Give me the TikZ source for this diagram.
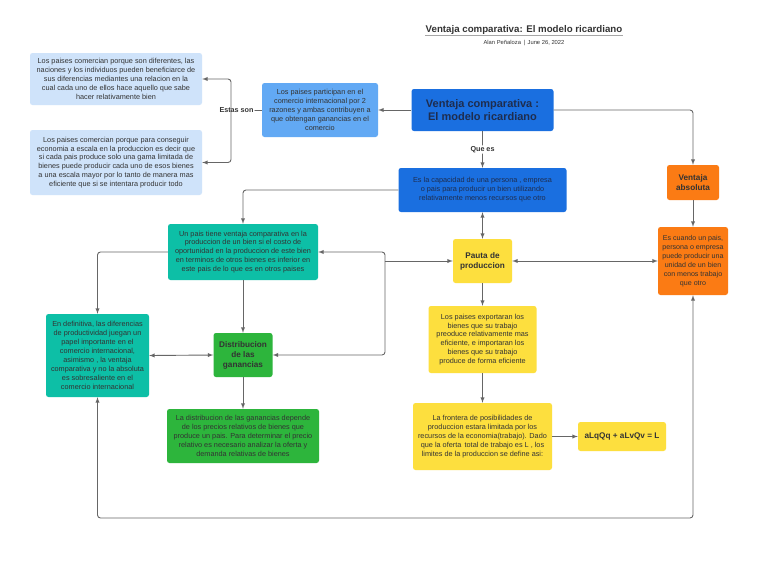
\documentclass[tikz,border=0pt]{standalone}
\usepackage{fontspec}
\setmainfont{Liberation Sans}
\usetikzlibrary{arrows,positioning,calc}

\definecolor{lblue}{HTML}{CFE3FA}
\definecolor{mblue}{HTML}{62A9F4}
\definecolor{dblue}{HTML}{1A6FE0}
\definecolor{tealbox}{HTML}{0DBFA6}
\definecolor{greenbox}{HTML}{2DB53C}
\definecolor{yellowbox}{HTML}{FDDF3E}
\definecolor{orangebox}{HTML}{FB7B14}
\definecolor{ink}{HTML}{333333}
\definecolor{navy}{HTML}{1E2D4F}
\definecolor{wire}{HTML}{666666}

\tikzset{
	box/.style 2 args={rounded corners=2.5pt, inner sep=0pt, align=center, text=ink,
		minimum width=#1, minimum height=#2, font=\fontsize{7.3}{8.9}\selectfont},
	head/.style={font=\fontsize{8.2}{10}\selectfont\bfseries},
	lbl/.style={fill=white, inner sep=1pt, text=ink, font=\fontsize{7.2}{8}\selectfont\bfseries},
	wire/.style={draw=wire, line width=0.9pt, rounded corners=3pt}
}

\begin{document}
\begin{tikzpicture}[x=1pt,y=-1pt]
		\useasboundingbox[fill=white] (0,0) rectangle (768,571);

		\node[font=\fontsize{9.7}{11}\selectfont\bfseries, text=ink, inner sep=0.5pt] (title) at (524,30)
			{Ventaja comparativa: El modelo ricardiano};
		\draw[gray!70, line width=0.6pt] (title.south west)--(title.south east);
		\node[font=\fontsize{5.8}{6}\selectfont, text=ink] (author) at (524,43.5)
			{Alan Peñaloza \,|\, June 26, 2022};

		\node[box={172pt}{52pt}, fill=lblue] (razon1) at (116,79)
			{Los paises comercian porque son diferentes, las\\ naciones y los individuos pueden beneficiarce de\\
			 sus diferencias mediantes una relacion en la\\ cual cada uno de ellos hace aquello que sabe\\
			 hacer relativamente bien};
		\node[box={172pt}{65pt}, fill=lblue] (razon2) at (116,162.5)
			{Los paises comercian porque para conseguir\\ economia a escala en la produccion es decir que\\
			 si cada pais produce solo una gama limitada de\\ bienes puede producir cada uno de esos bienes\\
			 a una escala mayor por lo tanto de manera mas\\ eficiente que si se intentara producir todo};
		\node[box={116pt}{54pt}, fill=mblue] (razones) at (320,110)
			{Los paises participan en el\\ comercio internacional por 2\\ razones y ambas contribuyen a\\
			 que obtengan ganancias en el\\ comercio};
		\node[box={142pt}{42pt}, fill=dblue, text=navy, font=\fontsize{11}{13}\selectfont\bfseries] (modelo) at (482.5,110)
			{Ventaja comparativa :\\ El modelo ricardiano};
		\node[box={168pt}{44pt}, fill=dblue, text=navy] (capacidad) at (482.5,190)
			{Es la capacidad de una persona , empresa\\ o pais para producir un bien utilizando\\
			 relativamente menos recursos que otro};
		\node[box={52pt}{35pt}, fill=orangebox, head] (absoluta) at (693,182.5)
			{Ventaja\\ absoluta};
		\node[box={70pt}{68pt}, fill=orangebox, font=\fontsize{7.1}{8.9}\selectfont] (cuando) at (693,261)
			{Es cuando un pais,\\ persona o empresa\\ puede producir una\\ unidad de un bien\\
			 con menos trabajo\\ que otro};
		\node[box={150pt}{56pt}, fill=tealbox] (costo) at (243,252)
			{Un pais tiene ventaja comparativa en la\\ produccion de un bien si el costo de\\
			 oportunidad en la produccion de este bien\\ en terminos de otros bienes es inferior en\\
			 este pais de lo que es en otros paises};
		\node[box={59pt}{44pt}, fill=yellowbox, head] (pauta) at (482.5,261)
			{Pauta de\\ produccion};
		\node[box={103pt}{83pt}, fill=tealbox] (definitiva) at (97.5,355.5)
			{En definitiva, las diferencias\\ de productividad juegan un\\ papel importante en el\\
			 comercio internacional,\\ asimismo , la ventaja\\ comparativa y no la absoluta\\
			 es sobresaliente en el\\ comercio internacional};
		\node[box={59pt}{44pt}, fill=greenbox, head] (distrib) at (243,355)
			{Distribucion\\ de las\\ ganancias};
		\node[box={152pt}{54pt}, fill=greenbox] (precios) at (243,436)
			{La distribucion de las ganancias depende\\ de los precios relativos de bienes que\\
			 produce un pais. Para determinar el precio\\ relativo es necesario analizar la oferta y\\
			 demanda relativas de bienes};
		\node[box={108pt}{67pt}, fill=yellowbox] (exportan) at (482.5,339.5)
			{Los paises exportaran los\\ bienes que su trabajo\\ preoduce relativamente mas\\
			 eficiente, e importaran los\\ bienes que su trabajo\\ produce de forma eficiente};
		\node[box={139pt}{67pt}, fill=yellowbox] (frontera) at (482.5,436.5)
			{La frontera de posibilidades de\\ produccion estara limitada por los\\
			 recursos de la economia(trabajo). Dado\\ que la oferta\, total de trabajo es L , los\\
			 limites de la produccion se define asi:};
		\node[box={88pt}{29pt}, fill=yellowbox, font=\fontsize{8.2}{9}\selectfont\bfseries] (ecuacion) at (622,436.5)
			{aLqQq + aLvQv = L};

		\coordinate (split) at (231,110);
		\coordinate (join) at (385,261);
		\coordinate (low) at (400,518);

		\draw[wire,-latex] (modelo.west)--(razones.east);
		\draw[wire] (razones.west)--(split) node[lbl, pos=0.82] {Estas son};
		\draw[wire,-latex] (split)|-(razon1.east);
		\draw[wire,-latex] (split)|-(razon2.east);
		\draw[wire,-latex] (modelo.east)-|(absoluta.north);
		\draw[wire,-latex] (modelo.south)--(capacidad.north) node[lbl, midway] {Que es};
		\draw[wire,-latex] (capacidad.west)-|(costo.north);
		\draw[wire,latex-latex] (capacidad.south)--(pauta.north);
		\draw[wire,latex-latex] (pauta.east)--(cuando.west);
		\draw[wire,-latex] (absoluta.south)--(cuando.north);
		\draw[wire,-latex] (join)--(pauta.west);
		\draw[wire,-latex] (join)|-(costo.east);
		\draw[wire,-latex] (join)|-(distrib.east);
		\draw[wire,-latex] (costo.south)--(distrib.north);
		\draw[wire,-latex] (costo.west)-|(definitiva.north);
		\draw[wire,latex-latex] (definitiva.east)--(distrib.west);
		\draw[wire,-latex] (distrib.south)--(precios.north);
		\draw[wire,-latex] (pauta.south)--(exportan.north);
		\draw[wire,-latex] (exportan.south)--(frontera.north);
		\draw[wire,-latex] (frontera.east)--(ecuacion.west);
		\draw[wire,latex-latex] (cuando.south)|-(low)-|(definitiva.south);
	\end{tikzpicture}
\end{document}
